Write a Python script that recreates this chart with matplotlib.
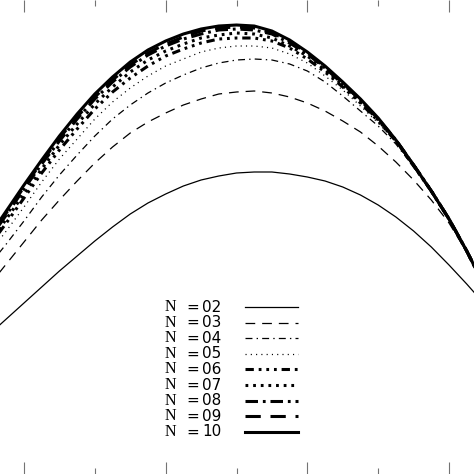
import matplotlib
matplotlib.use('Agg')
import matplotlib.pyplot as plt
import numpy as np

plt.rcParams['lines.scale_dashes'] = False

# x positions where the curves were read (tick units: majors at 0..3)
x = np.arange(-0.25, 3.26, 0.125)

# curve values (arbitrary units, axis 0..474)
N02 = [139, 155, 171, 187, 203, 218, 233, 247, 260, 271, 280, 288, 294, 298, 301,
       302, 302, 300, 297, 293, 287, 279, 269, 257, 243, 227, 209, 190, 170]
N03 = [188, 210, 232, 254, 274, 293, 311, 327, 341, 352, 361, 369, 375, 380, 382,
       383, 381, 377, 371, 363, 353, 342, 328, 312, 294, 274, 251, 222, 187]
N04 = [208, 230, 253, 277, 299, 319, 338, 355, 369, 381, 391, 399, 406, 411, 414,
       415, 414, 410, 403, 392, 378, 363, 348, 330, 307, 282, 254, 222, 187]
N05 = [220, 243, 267, 292, 315, 335, 355, 372, 386, 398, 408, 415, 422, 426, 428,
       428, 426, 420, 411, 398, 384, 368, 351, 332, 308, 283, 255, 223, 188]
N06 = [227, 251, 276, 301, 324, 345, 365, 382, 396, 408, 418, 425, 431, 435, 436,
       436, 433, 426, 415, 402, 387, 371, 353, 333, 308, 283, 255, 223, 188]
N07 = [230, 255, 280, 305, 329, 350, 370, 387, 402, 414, 423, 430, 436, 439, 441,
       440, 436, 428, 418, 404, 389, 372, 354, 333, 309, 283, 255, 223, 188]
N08 = [234, 259, 285, 310, 333, 355, 375, 392, 407, 419, 428, 435, 440, 444, 445,
       444, 440, 431, 420, 406, 390, 374, 355, 334, 309, 283, 255, 223, 188]
N09 = [235, 261, 287, 312, 336, 357, 377, 394, 409, 421, 430, 437, 443, 446, 447,
       446, 441, 433, 421, 407, 391, 374, 355, 334, 309, 283, 255, 223, 188]
N10 = [237, 263, 289, 314, 338, 360, 380, 397, 412, 424, 433, 440, 445, 448, 449,
       448, 443, 434, 422, 408, 392, 375, 356, 334, 309, 283, 255, 223, 188]

labels = ['02', '03', '04', '05', '06', '07', '08', '09', '10']
series = [N02, N03, N04, N05, N06, N07, N08, N09, N10]

# line styles per N (thin for 02-05, thick for 06-10)
styles = ['-',
          (0, (7, 5)),
          (0, (5, 3, 1, 3)),
          (0, (0.8, 3)),
          (0, (6, 3.5, 2, 3.5, 2, 3.5, 2, 3.5)),
          (0, (2, 3.5)),
          (0, (9, 3.5, 2, 3.5)),
          (0, (11, 7)),
          '-']
widths = [0.9, 0.9, 0.9, 0.9, 2.2, 2.2, 2.2, 2.2, 2.2]

fig = plt.figure(figsize=(4.74, 4.74), dpi=100)
ax = fig.add_axes([0, 0, 1, 1])

for y, ls, lw in zip(series, styles, widths):
    ax.plot(x, y, color='black', linestyle=ls, linewidth=lw)

ax.set_xlim(-24 / 141.67, 450 / 141.67)
ax.set_ylim(0, 474)

for s in ax.spines.values():
    s.set_visible(False)
ax.set_xticks([0, 1, 2, 3])
ax.set_xticks([0.5, 1.5, 2.5], minor=True)
ax.set_yticks([])
ax.tick_params(axis='x', which='both', direction='in', top=True, bottom=True,
               labelbottom=False, labeltop=False, color='0.45', width=0.8)
ax.tick_params(axis='x', which='major', length=8.6)
ax.tick_params(axis='x', which='minor', length=4.3)

# legend: label on the left, line sample on the right
for i, (lab, ls, lw) in enumerate(zip(labels, styles, widths)):
    yf = 1 - (307 + i * 15.6) / 474
    ax.text(165 / 474, yf, 'N', transform=ax.transAxes, va='center', ha='left',
            fontsize=11.5, family='Liberation Serif')
    ax.text(186 / 474, yf, '=', transform=ax.transAxes, va='center', ha='left',
            fontsize=11, family='DejaVu Sans')
    ax.text(202 / 474, yf, lab, transform=ax.transAxes, va='center', ha='left',
            fontsize=11, family='DejaVu Sans')
    ax.plot([245 / 474, 298 / 474], [yf, yf], transform=ax.transAxes,
            color='black', linestyle=ls, linewidth=lw)

fig.savefig('out.png', dpi=100)
